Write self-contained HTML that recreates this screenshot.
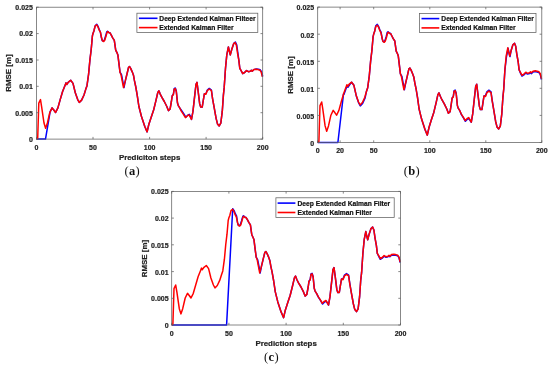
<!DOCTYPE html>
<html><head><meta charset="utf-8"><title>RMSE figure</title>
<style>
html,body{margin:0;padding:0;background:#fff;}
body{width:550px;height:366px;overflow:hidden;}
svg{display:block;}
text{font-family:"Liberation Sans",Arial,sans-serif;fill:#222;}
.tk{font-size:7px;font-weight:bold;stroke:#222;stroke-width:0.2px;}
.lb{font-size:7.9px;font-weight:bold;stroke:#222;stroke-width:0.2px;}
.lg{font-size:6.7px;font-weight:bold;fill:#111;stroke:#111;stroke-width:0.2px;}
.cp{font-family:"Liberation Serif","Times New Roman",serif;font-size:12.5px;letter-spacing:0.3px;fill:#111;}
</style></head><body>
<svg width="550" height="366" viewBox="0 0 550 366">
<rect width="550" height="366" fill="#fff"/>
<g id="pa">
<polyline fill="none" stroke="#0000ff" stroke-width="1.5" stroke-linejoin="round" points="36.5,139.1 45.5,139.1 50.1,111.9 52.1,107.9 54.0,110.2 55.6,112.5 57.9,107.9 60.2,99.6 62.6,91.5 64.9,85.7 66.0,82.9 66.7,84.5 68.4,82.1 70.7,80.3 73.0,83.4 75.3,92.7 77.7,99.6 79.3,102.4 81.6,100.1 84.0,95.0 85.8,89.1 87.0,85.7 88.6,74.1 89.9,60.1 91.2,49.5 92.4,35.9 93.0,33.5 93.9,31.0 95.1,26.1 96.7,24.2 97.9,26.1 99.1,29.2 100.4,32.2 101.3,37.4 102.2,40.5 103.4,41.1 104.4,39.9 105.6,36.1 106.8,31.8 107.5,31.2 108.7,32.4 109.9,32.7 111.4,35.3 112.7,37.8 114.3,40.3 115.1,45.9 115.7,50.1 117.2,53.2 117.9,55.0 118.8,62.4 120.0,72.2 121.5,74.7 122.7,80.9 124.0,87.6 125.3,80.9 127.1,73.5 128.6,67.3 129.6,66.5 130.8,68.6 132.1,71.6 133.5,75.3 134.5,80.9 135.8,87.0 137.2,95.1 138.9,106.5 141.4,116.3 144.7,126.2 147.1,131.9 148.8,124.5 151.2,117.2 153.7,109.8 156.1,99.9 157.8,92.5 158.9,90.8 160.2,94.1 161.9,97.4 164.3,101.5 166.8,106.5 168.4,110.6 170.1,109.0 171.4,101.5 172.2,95.8 173.4,94.0 174.2,88.6 175.3,88.0 176.3,91.1 177.5,103.1 178.3,105.6 179.9,108.2 181.7,110.7 183.7,113.7 185.8,117.2 187.8,115.2 189.3,114.4 190.5,116.4 191.5,119.4 193.0,111.2 194.6,96.7 196.0,84.4 197.0,82.4 198.3,92.6 199.7,103.9 200.7,107.1 202.2,107.1 203.2,100.8 204.4,93.7 205.9,93.7 207.3,90.0 209.3,88.4 211.4,90.0 212.6,98.8 214.1,107.1 216.1,118.4 217.5,123.9 219.2,125.9 220.8,123.1 222.3,111.2 223.4,95.1 224.2,87.4 225.5,68.3 226.8,54.9 228.4,46.9 229.3,51.1 230.3,54.9 231.8,49.2 233.8,43.4 235.4,42.0 236.7,44.9 237.8,52.5 238.9,60.7 239.8,68.3 241.4,71.2 242.7,73.6 244.6,72.5 246.5,70.6 248.4,71.7 250.3,71.2 251.3,70.2 252.2,71.2 253.8,69.6 256.4,68.9 258.3,69.2 260.2,69.8 261.5,71.7 262.7,76.5"/>
<polyline fill="none" stroke="#ff0000" stroke-width="1.5" stroke-linejoin="round" points="36.5,139.2 37.7,138.2 38.8,103.1 40.5,99.6 41.6,106.7 44.0,123.0 45.6,128.2 47.4,123.0 49.8,112.5 52.1,107.9 54.0,110.2 55.6,112.5 57.9,107.9 60.2,99.6 62.6,91.5 64.9,85.7 66.0,82.9 66.7,84.5 68.4,82.1 70.7,80.3 73.0,83.4 75.3,92.7 77.7,99.6 79.3,102.4 81.6,100.1 84.0,95.0 85.8,89.1 87.0,85.7 88.6,74.1 89.9,60.1 91.2,49.5 92.4,35.9 93.0,33.5 93.9,31.0 95.1,26.1 96.7,24.8 97.9,26.7 99.1,29.8 100.4,32.2 101.6,37.8 102.5,40.9 103.7,41.5 104.7,40.3 105.9,36.5 107.1,32.2 107.8,31.6 109.0,32.8 110.2,33.1 111.4,35.3 112.7,37.8 114.3,40.3 115.1,45.9 115.7,50.1 117.2,53.2 117.9,55.0 118.8,62.4 120.0,72.2 121.0,74.7 122.2,80.9 123.5,87.6 125.3,80.9 127.1,73.5 128.6,67.3 129.6,66.5 130.8,68.6 132.1,71.6 133.5,75.3 134.5,80.9 135.8,87.0 137.2,95.1 138.9,106.5 141.4,116.3 144.7,126.2 147.1,131.9 148.8,124.5 151.2,117.2 153.7,109.8 156.1,99.9 157.8,92.5 158.9,90.8 160.2,94.1 161.9,97.4 164.3,101.5 166.8,106.5 168.4,110.6 170.1,109.0 171.4,101.5 172.2,95.8 173.4,94.6 174.2,89.2 175.3,88.6 176.3,91.7 177.5,103.1 178.3,105.6 179.9,108.2 181.3,111.2 183.3,114.2 185.4,117.7 187.4,115.7 188.9,114.9 190.1,116.9 191.5,119.4 193.0,111.2 194.6,96.7 196.0,84.4 197.0,82.4 198.3,92.6 199.7,103.9 200.7,107.1 202.2,107.1 203.2,100.8 204.4,93.7 205.9,94.3 207.3,90.6 209.3,89.0 211.4,90.6 212.6,98.8 214.1,107.1 216.1,118.4 217.5,123.9 219.2,125.9 220.8,123.1 222.3,111.2 223.4,95.1 224.2,87.4 225.5,68.3 226.8,54.9 228.4,46.9 229.3,51.1 230.3,54.9 231.8,49.2 233.5,43.9 235.1,42.5 236.4,45.4 237.5,53.0 238.9,60.7 239.8,68.3 241.4,71.2 242.7,73.6 244.6,72.5 246.5,70.6 248.4,71.7 250.3,71.2 251.3,70.2 252.2,71.2 253.8,69.6 256.1,69.3 258.0,69.6 259.9,70.2 261.2,72.1 262.4,76.9"/>
<rect x="36.5" y="7.2" width="226.2" height="131.9" fill="none" stroke="#606060" stroke-width="0.75"/>
<text class="tk" text-anchor="middle" x="36.5" y="149.9">0</text>
<text class="tk" text-anchor="middle" x="93.0" y="149.9">50</text>
<text class="tk" text-anchor="middle" x="149.6" y="149.9">100</text>
<text class="tk" text-anchor="middle" x="206.1" y="149.9">150</text>
<text class="tk" text-anchor="middle" x="262.7" y="149.9">200</text>
<text class="tk" text-anchor="end" x="32.9" y="141.9">0</text>
<text class="tk" text-anchor="end" x="32.9" y="115.5">0.005</text>
<text class="tk" text-anchor="end" x="32.9" y="89.1">0.01</text>
<text class="tk" text-anchor="end" x="32.9" y="62.8">0.015</text>
<text class="tk" text-anchor="end" x="32.9" y="36.4">0.02</text>
<text class="tk" text-anchor="end" x="32.9" y="10.0">0.025</text>
<path d="M36.5 139.1v-2.2M36.5 7.2v2.2M93.0 139.1v-2.2M93.0 7.2v2.2M149.6 139.1v-2.2M149.6 7.2v2.2M206.1 139.1v-2.2M206.1 7.2v2.2M262.7 139.1v-2.2M262.7 7.2v2.2M36.5 139.1h2.2M262.7 139.1h-2.2M36.5 112.7h2.2M262.7 112.7h-2.2M36.5 86.3h2.2M262.7 86.3h-2.2M36.5 60.0h2.2M262.7 60.0h-2.2M36.5 33.6h2.2M262.7 33.6h-2.2M36.5 7.2h2.2M262.7 7.2h-2.2" stroke="#606060" stroke-width="0.75" fill="none"/>
<text class="lb" text-anchor="middle" transform="translate(10.9,73.1) rotate(-90)">RMSE [m]</text>
<text class="lb" text-anchor="middle" x="149.6" y="159.5">Prediciton steps</text>
<rect x="136.9" y="13.2" width="120.9" height="19.2" fill="#fff" stroke="#606060" stroke-width="0.75"/>
<path d="M138.9 18.3H157.5" stroke="#0000ff" stroke-width="1.6"/>
<path d="M138.9 27.6H157.5" stroke="#ff0000" stroke-width="1.6"/>
<text class="lg" x="159.3" y="20.8">Deep Extended Kalman Filteer</text>
<text class="lg" x="159.3" y="30.1">Extended Kalman Filter</text>
<text class="cp" text-anchor="middle" x="132.3" y="174.8">(<tspan font-weight="bold">a</tspan>)</text>
</g>
<g id="pb">
<polyline fill="none" stroke="#0000ff" stroke-width="1.5" stroke-linejoin="round" points="317.7,142.5 337.9,142.5 343.5,94.0 343.9,94.5 346.1,88.5 347.2,85.6 347.9,87.3 349.6,84.8 351.6,82.2 353.9,85.3 356.3,95.9 358.7,103.0 360.3,105.9 362.6,103.5 365.0,98.3 366.5,91.2 367.7,87.7 369.3,75.8 370.6,61.4 371.9,50.5 373.1,36.6 373.7,34.1 374.6,31.6 375.8,25.7 377.3,24.4 378.5,26.3 379.7,29.5 381.0,32.0 382.2,38.6 382.8,41.1 384.0,41.8 385.0,40.5 386.2,36.7 387.3,32.3 388.0,31.7 389.2,32.9 390.4,33.2 391.9,36.0 393.2,38.6 394.8,41.0 395.6,46.8 396.2,51.1 397.7,54.3 398.3,56.1 399.2,63.7 400.4,73.8 401.9,76.4 403.1,82.8 404.4,89.7 405.7,82.8 407.5,75.2 408.9,68.8 409.9,68.0 411.1,70.1 412.4,73.2 413.8,77.0 414.8,82.8 416.1,89.0 417.5,97.4 419.1,109.0 421.6,119.1 424.9,129.2 427.3,135.1 429.0,127.5 431.3,120.0 433.8,112.4 436.2,102.3 437.9,94.7 439.0,92.9 440.3,96.3 441.9,99.7 444.3,103.9 446.8,109.0 448.4,113.2 450.1,111.6 451.3,103.9 452.1,98.1 453.3,96.3 454.1,90.7 455.2,90.1 456.2,93.3 457.4,105.6 458.2,108.2 459.8,110.7 461.4,114.6 463.3,117.7 465.4,121.3 467.4,119.2 468.9,118.4 470.1,120.5 471.3,122.2 472.7,113.8 474.3,99.0 475.7,86.4 476.7,84.3 478.0,94.8 479.4,106.4 480.4,109.6 481.9,109.6 482.9,103.2 484.0,95.9 485.5,95.6 486.9,91.8 488.9,90.2 491.0,91.8 492.2,100.3 493.7,109.6 495.6,121.2 497.0,126.9 498.7,128.9 500.3,126.1 501.8,113.8 502.9,97.4 503.7,89.5 504.9,69.8 506.5,56.5 508.1,48.3 509.0,52.6 510.0,56.5 511.2,50.2 512.9,44.7 514.5,43.3 515.7,46.3 516.8,54.1 518.2,62.0 519.1,69.8 520.7,73.6 522.0,76.1 523.9,74.9 525.8,73.0 527.6,74.1 529.5,73.6 530.5,72.6 531.4,73.6 533.0,72.0 535.3,71.6 537.1,72.0 539.0,72.6 540.3,74.5 541.5,79.5"/>
<polyline fill="none" stroke="#ff0000" stroke-width="1.5" stroke-linejoin="round" points="317.7,142.6 318.9,141.6 320.0,105.6 321.7,102.0 322.8,109.2 325.1,125.9 326.7,131.3 328.5,125.9 330.9,115.2 333.2,110.4 335.0,112.8 336.6,115.2 338.9,110.4 341.2,102.0 343.6,93.7 345.8,87.7 346.9,84.8 347.6,86.5 349.3,84.0 351.6,82.2 353.9,85.3 356.1,94.9 358.5,102.0 360.1,104.9 362.4,102.5 364.8,97.3 366.5,91.2 367.7,87.7 369.3,75.8 370.6,61.4 371.9,50.5 373.1,36.6 373.7,34.1 374.6,31.6 375.8,26.5 377.3,25.2 378.5,27.1 379.7,30.3 381.0,32.8 382.2,38.6 383.1,41.6 384.3,42.3 385.3,41.0 386.5,37.2 387.6,32.8 388.3,32.2 389.5,33.4 390.7,33.7 391.9,36.0 393.2,38.6 394.8,41.0 395.6,46.8 396.2,51.1 397.7,54.3 398.3,56.1 399.2,63.7 400.4,73.8 401.4,76.4 402.6,82.8 403.9,89.7 405.7,82.8 407.5,75.2 408.9,68.8 409.9,68.0 411.1,70.1 412.4,73.2 413.8,77.0 414.8,82.8 416.1,89.0 417.5,97.4 419.1,109.0 421.6,119.1 424.9,129.2 427.3,135.1 429.0,127.5 431.3,120.0 433.8,112.4 436.2,102.3 437.9,94.7 439.0,92.9 440.3,96.3 441.9,99.7 444.3,103.9 446.8,109.0 448.4,113.2 450.1,111.6 451.3,103.9 452.1,98.1 453.3,96.9 454.1,91.3 455.2,90.7 456.2,93.9 457.4,105.6 458.2,108.2 459.8,110.7 461.2,113.8 463.1,116.9 465.2,120.5 467.2,118.4 468.7,117.6 469.9,119.7 471.3,122.2 472.7,113.8 474.3,99.0 475.7,86.4 476.7,84.3 478.0,94.8 479.4,106.4 480.4,109.6 481.9,109.6 482.9,103.2 484.0,95.9 485.5,96.5 486.9,92.7 488.9,91.1 491.0,92.7 492.2,101.2 493.7,109.6 495.6,121.2 497.0,126.9 498.7,128.9 500.3,126.1 501.8,113.8 502.9,97.4 503.7,89.5 504.9,69.8 506.2,56.0 507.8,47.8 508.7,52.1 509.7,56.0 511.2,50.2 512.9,44.7 514.5,43.3 515.7,46.3 516.8,54.1 518.2,62.0 519.1,69.8 520.7,72.8 522.0,75.3 523.9,74.1 525.8,72.2 527.6,73.3 529.5,72.8 530.5,71.8 531.4,72.8 533.0,71.2 535.3,70.8 537.1,71.2 539.0,71.8 540.3,73.7 541.5,78.7"/>
<rect x="317.7" y="7.1" width="224.1" height="135.4" fill="none" stroke="#606060" stroke-width="0.75"/>
<text class="tk" text-anchor="middle" x="317.7" y="153.3">0</text>
<text class="tk" text-anchor="middle" x="340.1" y="153.3">20</text>
<text class="tk" text-anchor="middle" x="373.7" y="153.3">50</text>
<text class="tk" text-anchor="middle" x="429.8" y="153.3">100</text>
<text class="tk" text-anchor="middle" x="485.8" y="153.3">150</text>
<text class="tk" text-anchor="middle" x="541.8" y="153.3">200</text>
<text class="tk" text-anchor="end" x="314.1" y="145.8">0</text>
<text class="tk" text-anchor="end" x="314.1" y="118.7">0.005</text>
<text class="tk" text-anchor="end" x="314.1" y="91.6">0.01</text>
<text class="tk" text-anchor="end" x="314.1" y="64.6">0.015</text>
<text class="tk" text-anchor="end" x="314.1" y="37.5">0.02</text>
<text class="tk" text-anchor="end" x="314.1" y="10.4">0.025</text>
<path d="M317.7 142.5v-2.2M317.7 7.1v2.2M340.1 142.5v-2.2M340.1 7.1v2.2M373.7 142.5v-2.2M373.7 7.1v2.2M429.8 142.5v-2.2M429.8 7.1v2.2M485.8 142.5v-2.2M485.8 7.1v2.2M541.8 142.5v-2.2M541.8 7.1v2.2M317.7 142.5h2.2M541.8 142.5h-2.2M317.7 115.4h2.2M541.8 115.4h-2.2M317.7 88.3h2.2M541.8 88.3h-2.2M317.7 61.3h2.2M541.8 61.3h-2.2M317.7 34.2h2.2M541.8 34.2h-2.2M317.7 7.1h2.2M541.8 7.1h-2.2" stroke="#606060" stroke-width="0.75" fill="none"/>
<text class="lb" text-anchor="middle" transform="translate(292.6,75.1) rotate(-90)">RMSE [m]</text>
<rect x="419.4" y="13.5" width="116.6" height="19.1" fill="#fff" stroke="#606060" stroke-width="0.75"/>
<path d="M421.5 18.6H439.3" stroke="#0000ff" stroke-width="1.6"/>
<path d="M421.5 27.9H439.3" stroke="#ff0000" stroke-width="1.6"/>
<text class="lg" x="441.3" y="21.1">Deep Extended Kalman Filter</text>
<text class="lg" x="441.3" y="30.4">Extended Kalman Filter</text>
<text class="cp" text-anchor="middle" x="411.8" y="175.0">(<tspan font-weight="bold">b</tspan>)</text>
</g>
<g id="pc">
<polyline fill="none" stroke="#0000ff" stroke-width="1.5" stroke-linejoin="round" points="171.7,325.0 226.6,325.0 232.7,208.7 234.1,210.6 235.3,213.7 236.6,216.2 237.5,222.4 238.2,225.1 239.4,225.7 240.4,224.5 241.6,220.7 242.8,216.4 243.5,215.8 244.7,217.0 245.9,217.3 247.5,219.9 248.8,222.4 250.4,224.9 251.2,230.6 251.8,234.8 253.3,238.0 254.0,239.8 254.9,247.3 256.2,257.2 257.7,259.8 258.9,266.1 260.2,272.9 261.5,266.1 263.3,258.6 264.9,252.3 265.9,251.5 267.1,253.6 268.4,256.6 269.8,260.4 270.8,266.1 272.1,272.2 273.6,280.5 275.3,291.9 277.8,301.9 281.1,311.9 283.6,317.7 285.3,310.2 287.7,302.8 290.2,295.3 292.7,285.3 294.4,277.8 295.5,276.1 296.8,279.5 298.5,282.8 301.0,287.0 303.5,291.9 305.1,296.1 306.8,294.5 308.2,287.0 309.0,281.2 310.2,279.4 311.0,273.9 312.1,273.3 313.1,276.4 314.3,288.6 315.1,291.1 316.7,293.7 318.5,297.4 320.5,300.4 322.6,304.0 324.6,302.0 326.2,301.2 327.4,303.2 328.5,305.0 330.0,296.7 331.6,282.1 333.0,269.6 334.0,267.6 335.4,277.9 336.8,289.4 337.8,292.5 339.3,292.5 340.3,286.2 341.5,279.0 343.0,278.9 344.5,275.1 346.5,273.5 348.6,275.1 349.8,283.4 351.3,292.5 353.4,304.0 354.8,309.6 356.5,311.6 358.1,308.8 359.6,296.7 360.7,280.5 361.6,272.7 362.9,253.3 364.2,239.7 365.8,231.6 366.7,235.8 367.7,239.7 369.2,233.9 371.0,228.5 372.6,227.1 373.9,230.0 375.0,237.8 376.4,245.6 377.3,253.3 379.0,256.8 380.3,259.3 382.2,258.1 384.1,256.2 386.0,257.3 388.0,256.8 389.0,255.8 389.9,256.8 391.5,255.2 393.8,254.9 395.7,255.2 397.7,255.8 399.0,257.7 400.2,262.6"/>
<polyline fill="none" stroke="#ff0000" stroke-width="1.5" stroke-linejoin="round" points="171.7,325.1 172.9,324.1 174.0,288.6 175.7,285.0 176.9,292.1 179.3,308.7 180.9,313.9 182.7,308.7 185.2,298.0 187.5,293.3 189.4,295.7 191.0,298.0 193.3,293.3 195.7,285.0 198.1,276.8 200.4,270.9 201.5,268.1 202.2,269.7 204.0,267.3 206.3,265.5 208.6,268.6 210.9,278.0 213.4,285.0 215.0,287.9 217.3,285.5 219.7,280.4 221.6,274.4 222.8,270.9 224.4,259.2 225.7,245.0 227.0,234.2 228.2,220.5 228.8,218.1 229.8,215.5 231.0,210.6 232.6,209.3 233.8,211.2 235.0,214.3 236.3,216.8 237.5,222.4 238.5,225.5 239.7,226.1 240.7,224.9 241.9,221.1 243.1,216.8 243.8,216.2 245.0,217.4 246.2,217.7 247.5,219.9 248.8,222.4 250.4,224.9 251.2,230.6 251.8,234.8 253.3,238.0 254.0,239.8 254.9,247.3 256.2,257.2 257.2,259.8 258.4,266.1 259.7,272.9 261.5,266.1 263.3,258.6 264.9,252.3 265.9,251.5 267.1,253.6 268.4,256.6 269.8,260.4 270.8,266.1 272.1,272.2 273.6,280.5 275.3,291.9 277.8,301.9 281.1,311.9 283.6,317.7 285.3,310.2 287.7,302.8 290.2,295.3 292.7,285.3 294.4,277.8 295.5,276.1 296.8,279.5 298.5,282.8 301.0,287.0 303.5,291.9 305.1,296.1 306.8,294.5 308.2,287.0 309.0,281.2 310.2,280.0 311.0,274.5 312.1,273.9 313.1,277.0 314.3,288.6 315.1,291.1 316.7,293.7 318.2,296.7 320.2,299.7 322.3,303.3 324.3,301.3 325.9,300.5 327.1,302.5 328.5,305.0 330.0,296.7 331.6,282.1 333.0,269.6 334.0,267.6 335.4,277.9 336.8,289.4 337.8,292.5 339.3,292.5 340.3,286.2 341.5,279.0 343.0,279.7 344.5,275.9 346.5,274.3 348.6,275.9 349.8,284.2 351.3,292.5 353.4,304.0 354.8,309.6 356.5,311.6 358.1,308.8 359.6,296.7 360.7,280.5 361.6,272.7 362.9,253.3 364.2,239.7 365.8,231.6 366.7,235.8 367.7,239.7 369.2,233.9 371.0,228.5 372.6,227.1 373.9,230.0 375.0,237.8 376.4,245.6 377.3,253.3 379.0,256.2 380.3,258.7 382.2,257.5 384.1,255.6 386.0,256.7 388.0,256.2 389.0,255.2 389.9,256.2 391.5,254.6 393.8,254.3 395.7,254.6 397.7,255.2 399.0,257.1 400.2,262.0"/>
<rect x="171.7" y="191.4" width="228.8" height="133.6" fill="none" stroke="#606060" stroke-width="0.75"/>
<text class="tk" text-anchor="middle" x="171.7" y="335.8">0</text>
<text class="tk" text-anchor="middle" x="228.9" y="335.8">50</text>
<text class="tk" text-anchor="middle" x="286.1" y="335.8">100</text>
<text class="tk" text-anchor="middle" x="343.3" y="335.8">150</text>
<text class="tk" text-anchor="middle" x="400.5" y="335.8">200</text>
<text class="tk" text-anchor="end" x="168.6" y="328.0">0</text>
<text class="tk" text-anchor="end" x="168.6" y="301.3">0.005</text>
<text class="tk" text-anchor="end" x="168.6" y="274.6">0.01</text>
<text class="tk" text-anchor="end" x="168.6" y="247.8">0.015</text>
<text class="tk" text-anchor="end" x="168.6" y="221.1">0.02</text>
<text class="tk" text-anchor="end" x="168.6" y="194.4">0.025</text>
<path d="M171.7 325.0v-2.2M171.7 191.4v2.2M228.9 325.0v-2.2M228.9 191.4v2.2M286.1 325.0v-2.2M286.1 191.4v2.2M343.3 325.0v-2.2M343.3 191.4v2.2M400.5 325.0v-2.2M400.5 191.4v2.2M171.7 325.0h2.2M400.5 325.0h-2.2M171.7 298.3h2.2M400.5 298.3h-2.2M171.7 271.6h2.2M400.5 271.6h-2.2M171.7 244.8h2.2M400.5 244.8h-2.2M171.7 218.1h2.2M400.5 218.1h-2.2M171.7 191.4h2.2M400.5 191.4h-2.2" stroke="#606060" stroke-width="0.75" fill="none"/>
<text class="lb" text-anchor="middle" transform="translate(146.7,258.6) rotate(-90)">RMSE [m]</text>
<text class="lb" text-anchor="middle" x="286.1" y="346.1">Prediction steps</text>
<rect x="275.9" y="197.8" width="118.3" height="19.6" fill="#fff" stroke="#606060" stroke-width="0.75"/>
<path d="M277.6 203.1H295.4" stroke="#0000ff" stroke-width="1.6"/>
<path d="M277.6 212.5H295.4" stroke="#ff0000" stroke-width="1.6"/>
<text class="lg" x="297.5" y="205.6">Deep Extended Kalman Filter</text>
<text class="lg" x="297.5" y="215.0">Extended Kalman Filter</text>
<text class="cp" text-anchor="middle" x="271.5" y="361.0">(<tspan font-weight="bold">c</tspan>)</text>
</g>
</svg>
</body></html>
